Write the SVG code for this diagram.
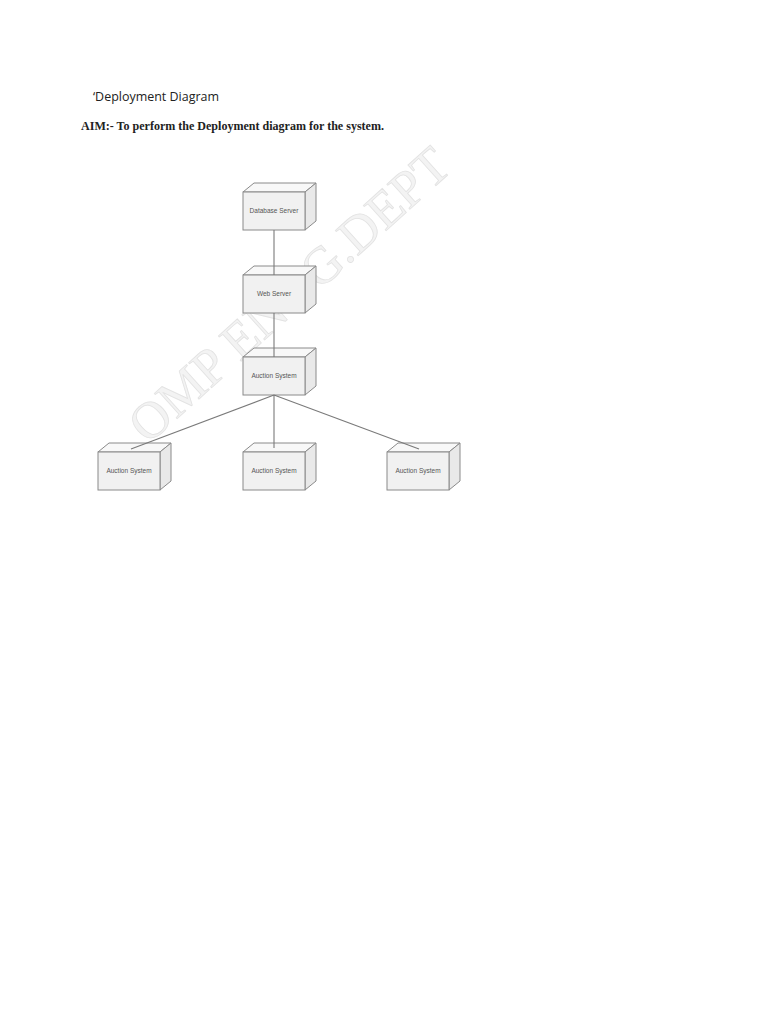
<svg xmlns="http://www.w3.org/2000/svg" width="768" height="1024" viewBox="0 0 768 1024">
  <style>
    .front { fill: #f1f1f1; stroke: #8a8a8a; stroke-width: 1; }
    .top { fill: #f8f8f8; stroke: #8a8a8a; stroke-width: 1; }
    .side { fill: #e9e9e9; stroke: #8a8a8a; stroke-width: 1; }
    .lbl { font-family: "Liberation Sans", Arial, sans-serif; font-size: 6.5px; fill: #555555; text-anchor: middle; }
    .conn { stroke: #7a7a7a; stroke-width: 1.1; fill: none; }
    .wm { font-family: "Liberation Serif", "Times New Roman", serif; font-size: 52px; fill: #f3f3f3; stroke: #e2e2e2; stroke-width: 0.8; }
  </style>
  <defs>
    <g id="box">
      <polygon class="top" points="0,0 11,-9 73,-9 62,0"/>
      <polygon class="side" points="62,0 73,-9 73,29 62,38"/>
      <rect class="front" x="0" y="0" width="62" height="38"/>
    </g>
  </defs>
  <rect width="768" height="1024" fill="#ffffff"/>

  <text x="93" y="101" font-family="'Open Sans', 'Liberation Sans', sans-serif" font-size="13" fill="#222222" textLength="126" lengthAdjust="spacingAndGlyphs">‘Deployment Diagram</text>
  <text x="81" y="130" font-family="'Liberation Serif', 'Times New Roman', serif" font-size="11.5" font-weight="bold" fill="#222222" textLength="303" lengthAdjust="spacingAndGlyphs">AIM:- To perform the Deployment diagram for the system.</text>

  <g id="watermark">
    <text class="wm" transform="translate(148,445) rotate(-42)">OMP ENGG.DEPT</text>
  </g>

  <g id="node-database-server">
    <use href="#box" x="243" y="192"/>
    <text class="lbl" x="274" y="213">Database Server</text>
  </g>
  <g id="node-web-server">
    <use href="#box" x="243" y="275"/>
    <text class="lbl" x="274" y="296">Web Server</text>
  </g>
  <g id="node-auction-main">
    <use href="#box" x="243" y="357"/>
    <text class="lbl" x="274" y="378">Auction System</text>
  </g>
  <g id="node-auction-left">
    <use href="#box" x="98" y="452"/>
    <text class="lbl" x="129" y="473">Auction System</text>
  </g>
  <g id="node-auction-middle">
    <use href="#box" x="243" y="452"/>
    <text class="lbl" x="274" y="473">Auction System</text>
  </g>
  <g id="node-auction-right">
    <use href="#box" x="387" y="452"/>
    <text class="lbl" x="418" y="473">Auction System</text>
  </g>

  <g id="connectors">
    <line class="conn" x1="274" y1="230" x2="274" y2="275"/>
    <line class="conn" x1="274" y1="313" x2="274" y2="357"/>
    <line class="conn" x1="274" y1="395" x2="131" y2="449"/>
    <line class="conn" x1="274" y1="395" x2="274" y2="448"/>
    <line class="conn" x1="274" y1="395" x2="419" y2="449"/>
  </g>
</svg>
